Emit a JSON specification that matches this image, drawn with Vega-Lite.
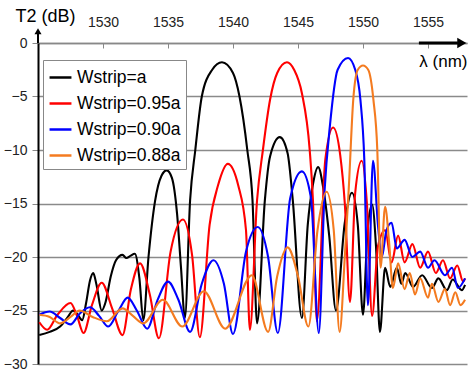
{
  "$schema": "https://vega.github.io/schema/vega-lite/v6.json",
  "width": 429,
  "height": 321,
  "autosize": {"type": "none"},
  "padding": {"left": 38, "top": 43, "right": 7, "bottom": 11},
  "config": {"font": "Liberation Sans", "view": {"stroke": null}},
  "datasets": {
    "curves": [
      {"s":"Wstrip=a","x":1525.1,"y":-27.3},{"s":"Wstrip=a","x":1525.9,"y":-27.0},{"s":"Wstrip=a","x":1526.7,"y":-26.5},{"s":"Wstrip=a","x":1527.3,"y":-25.6},{"s":"Wstrip=a","x":1527.7,"y":-25.0},{"s":"Wstrip=a","x":1528.0,"y":-25.3},{"s":"Wstrip=a","x":1528.4,"y":-25.9},{"s":"Wstrip=a","x":1528.7,"y":-24.3},{"s":"Wstrip=a","x":1529.0,"y":-22.2},{"s":"Wstrip=a","x":1529.25,"y":-21.5},{"s":"Wstrip=a","x":1529.5,"y":-22.6},{"s":"Wstrip=a","x":1529.9,"y":-25.0},{"s":"Wstrip=a","x":1530.2,"y":-24.2},{"s":"Wstrip=a","x":1530.6,"y":-21.8},{"s":"Wstrip=a","x":1531.0,"y":-20.3},{"s":"Wstrip=a","x":1531.5,"y":-19.8},{"s":"Wstrip=a","x":1531.8,"y":-20.1},{"s":"Wstrip=a","x":1532.1,"y":-19.9},{"s":"Wstrip=a","x":1532.45,"y":-19.7},{"s":"Wstrip=a","x":1532.8,"y":-22.0},{"s":"Wstrip=a","x":1533.1,"y":-25.9},{"s":"Wstrip=a","x":1533.5,"y":-20.0},{"s":"Wstrip=a","x":1534.0,"y":-14.8},{"s":"Wstrip=a","x":1534.5,"y":-12.4},{"s":"Wstrip=a","x":1534.9,"y":-11.9},{"s":"Wstrip=a","x":1535.3,"y":-12.6},{"s":"Wstrip=a","x":1535.7,"y":-16.0},{"s":"Wstrip=a","x":1536.0,"y":-21.0},{"s":"Wstrip=a","x":1536.3,"y":-25.7},{"s":"Wstrip=a","x":1536.7,"y":-14.7},{"s":"Wstrip=a","x":1537.1,"y":-10.0},{"s":"Wstrip=a","x":1537.6,"y":-5.0},{"s":"Wstrip=a","x":1538.4,"y":-2.5},{"s":"Wstrip=a","x":1539.15,"y":-1.8},{"s":"Wstrip=a","x":1540.0,"y":-2.8},{"s":"Wstrip=a","x":1540.5,"y":-5.0},{"s":"Wstrip=a","x":1541.1,"y":-10.0},{"s":"Wstrip=a","x":1541.5,"y":-14.7},{"s":"Wstrip=a","x":1541.85,"y":-26.2},{"s":"Wstrip=a","x":1542.45,"y":-14.7},{"s":"Wstrip=a","x":1542.85,"y":-10.6},{"s":"Wstrip=a","x":1543.6,"y":-8.8},{"s":"Wstrip=a","x":1544.2,"y":-10.3},{"s":"Wstrip=a","x":1544.6,"y":-14.7},{"s":"Wstrip=a","x":1545.3,"y":-25.7},{"s":"Wstrip=a","x":1545.75,"y":-17.0},{"s":"Wstrip=a","x":1546.15,"y":-13.2},{"s":"Wstrip=a","x":1546.55,"y":-11.6},{"s":"Wstrip=a","x":1546.95,"y":-13.6},{"s":"Wstrip=a","x":1547.4,"y":-18.0},{"s":"Wstrip=a","x":1547.92,"y":-25.0},{"s":"Wstrip=a","x":1548.6,"y":-16.8},{"s":"Wstrip=a","x":1549.15,"y":-14.0},{"s":"Wstrip=a","x":1549.6,"y":-17.0},{"s":"Wstrip=a","x":1550.0,"y":-25.4},{"s":"Wstrip=a","x":1550.35,"y":-17.5},{"s":"Wstrip=a","x":1550.7,"y":-15.1},{"s":"Wstrip=a","x":1551.0,"y":-19.0},{"s":"Wstrip=a","x":1551.3,"y":-27.0},{"s":"Wstrip=a","x":1551.7,"y":-21.0},{"s":"Wstrip=a","x":1552.1,"y":-22.8},{"s":"Wstrip=a","x":1552.6,"y":-21.0},{"s":"Wstrip=a","x":1552.95,"y":-22.5},{"s":"Wstrip=a","x":1553.25,"y":-21.5},{"s":"Wstrip=a","x":1553.85,"y":-22.8},{"s":"Wstrip=a","x":1554.55,"y":-21.7},{"s":"Wstrip=a","x":1555.3,"y":-22.9},{"s":"Wstrip=a","x":1555.8,"y":-22.0},{"s":"Wstrip=a","x":1556.45,"y":-23.1},{"s":"Wstrip=a","x":1556.9,"y":-22.1},{"s":"Wstrip=a","x":1557.6,"y":-23.1},{"s":"Wstrip=a","x":1557.85,"y":-22.6},

      {"s":"Wstrip=0.95a","x":1525.1,"y":-26.1},{"s":"Wstrip=0.95a","x":1525.7,"y":-26.8},{"s":"Wstrip=0.95a","x":1526.5,"y":-25.4},{"s":"Wstrip=0.95a","x":1527.5,"y":-24.3},{"s":"Wstrip=0.95a","x":1528.0,"y":-25.5},{"s":"Wstrip=0.95a","x":1528.5,"y":-27.1},{"s":"Wstrip=0.95a","x":1529.15,"y":-24.5},{"s":"Wstrip=0.95a","x":1529.9,"y":-22.4},{"s":"Wstrip=0.95a","x":1530.7,"y":-24.8},{"s":"Wstrip=0.95a","x":1531.5,"y":-27.3},{"s":"Wstrip=0.95a","x":1532.15,"y":-23.0},{"s":"Wstrip=0.95a","x":1532.85,"y":-20.6},{"s":"Wstrip=0.95a","x":1533.6,"y":-23.5},{"s":"Wstrip=0.95a","x":1534.3,"y":-27.6},{"s":"Wstrip=0.95a","x":1535.2,"y":-19.5},{"s":"Wstrip=0.95a","x":1536.15,"y":-16.5},{"s":"Wstrip=0.95a","x":1536.85,"y":-19.8},{"s":"Wstrip=0.95a","x":1537.45,"y":-27.5},{"s":"Wstrip=0.95a","x":1538.2,"y":-17.0},{"s":"Wstrip=0.95a","x":1538.85,"y":-13.3},{"s":"Wstrip=0.95a","x":1539.6,"y":-11.3},{"s":"Wstrip=0.95a","x":1540.4,"y":-13.3},{"s":"Wstrip=0.95a","x":1541.0,"y":-17.5},{"s":"Wstrip=0.95a","x":1541.3,"y":-26.8},{"s":"Wstrip=0.95a","x":1541.85,"y":-14.7},{"s":"Wstrip=0.95a","x":1542.3,"y":-10.0},{"s":"Wstrip=0.95a","x":1542.85,"y":-5.3},{"s":"Wstrip=0.95a","x":1543.4,"y":-2.8},{"s":"Wstrip=0.95a","x":1544.15,"y":-1.8},{"s":"Wstrip=0.95a","x":1544.7,"y":-2.5},{"s":"Wstrip=0.95a","x":1545.3,"y":-4.7},{"s":"Wstrip=0.95a","x":1545.9,"y":-10.0},{"s":"Wstrip=0.95a","x":1546.15,"y":-14.7},{"s":"Wstrip=0.95a","x":1546.45,"y":-26.0},{"s":"Wstrip=0.95a","x":1547.1,"y":-10.9},{"s":"Wstrip=0.95a","x":1547.7,"y":-7.9},{"s":"Wstrip=0.95a","x":1548.25,"y":-10.5},{"s":"Wstrip=0.95a","x":1548.6,"y":-15.0},{"s":"Wstrip=0.95a","x":1549.0,"y":-24.2},{"s":"Wstrip=0.95a","x":1549.4,"y":-14.0},{"s":"Wstrip=0.95a","x":1549.9,"y":-11.0},{"s":"Wstrip=0.95a","x":1550.3,"y":-15.0},{"s":"Wstrip=0.95a","x":1550.7,"y":-25.5},{"s":"Wstrip=0.95a","x":1551.15,"y":-19.0},{"s":"Wstrip=0.95a","x":1551.7,"y":-17.5},{"s":"Wstrip=0.95a","x":1552.2,"y":-20.5},{"s":"Wstrip=0.95a","x":1552.7,"y":-18.0},{"s":"Wstrip=0.95a","x":1553.2,"y":-20.5},{"s":"Wstrip=0.95a","x":1553.8,"y":-18.8},{"s":"Wstrip=0.95a","x":1554.4,"y":-21.0},{"s":"Wstrip=0.95a","x":1555.0,"y":-19.5},{"s":"Wstrip=0.95a","x":1555.6,"y":-21.5},{"s":"Wstrip=0.95a","x":1556.15,"y":-20.3},{"s":"Wstrip=0.95a","x":1556.7,"y":-22.0},{"s":"Wstrip=0.95a","x":1557.25,"y":-20.8},{"s":"Wstrip=0.95a","x":1557.7,"y":-22.3},{"s":"Wstrip=0.95a","x":1557.85,"y":-22.0},

      {"s":"Wstrip=0.90a","x":1525.1,"y":-25.4},{"s":"Wstrip=0.90a","x":1525.9,"y":-25.1},{"s":"Wstrip=0.90a","x":1526.7,"y":-25.7},{"s":"Wstrip=0.90a","x":1527.5,"y":-26.3},{"s":"Wstrip=0.90a","x":1528.2,"y":-25.3},{"s":"Wstrip=0.90a","x":1529.0,"y":-24.7},{"s":"Wstrip=0.90a","x":1529.7,"y":-25.5},{"s":"Wstrip=0.90a","x":1530.4,"y":-26.5},{"s":"Wstrip=0.90a","x":1531.2,"y":-25.0},{"s":"Wstrip=0.90a","x":1531.9,"y":-23.8},{"s":"Wstrip=0.90a","x":1532.6,"y":-25.0},{"s":"Wstrip=0.90a","x":1533.4,"y":-26.7},{"s":"Wstrip=0.90a","x":1534.2,"y":-24.0},{"s":"Wstrip=0.90a","x":1535.0,"y":-22.3},{"s":"Wstrip=0.90a","x":1535.8,"y":-24.0},{"s":"Wstrip=0.90a","x":1536.7,"y":-27.0},{"s":"Wstrip=0.90a","x":1537.6,"y":-22.5},{"s":"Wstrip=0.90a","x":1538.5,"y":-20.3},{"s":"Wstrip=0.90a","x":1539.3,"y":-22.5},{"s":"Wstrip=0.90a","x":1540.0,"y":-27.2},{"s":"Wstrip=0.90a","x":1541.0,"y":-19.5},{"s":"Wstrip=0.90a","x":1541.9,"y":-17.2},{"s":"Wstrip=0.90a","x":1542.7,"y":-20.0},{"s":"Wstrip=0.90a","x":1543.45,"y":-27.1},{"s":"Wstrip=0.90a","x":1544.4,"y":-14.5},{"s":"Wstrip=0.90a","x":1545.3,"y":-12.0},{"s":"Wstrip=0.90a","x":1546.0,"y":-14.5},{"s":"Wstrip=0.90a","x":1546.6,"y":-27.1},{"s":"Wstrip=0.90a","x":1547.05,"y":-13.7},{"s":"Wstrip=0.90a","x":1547.45,"y":-7.8},{"s":"Wstrip=0.90a","x":1548.05,"y":-2.5},{"s":"Wstrip=0.90a","x":1548.85,"y":-1.4},{"s":"Wstrip=0.90a","x":1549.4,"y":-2.5},{"s":"Wstrip=0.90a","x":1549.8,"y":-5.3},{"s":"Wstrip=0.90a","x":1550.1,"y":-10.9},{"s":"Wstrip=0.90a","x":1550.38,"y":-24.5},{"s":"Wstrip=0.90a","x":1550.77,"y":-11.0},{"s":"Wstrip=0.90a","x":1551.15,"y":-17.0},{"s":"Wstrip=0.90a","x":1551.45,"y":-20.0},{"s":"Wstrip=0.90a","x":1551.8,"y":-17.5},{"s":"Wstrip=0.90a","x":1552.2,"y":-16.8},{"s":"Wstrip=0.90a","x":1552.6,"y":-19.2},{"s":"Wstrip=0.90a","x":1553.2,"y":-18.4},{"s":"Wstrip=0.90a","x":1553.8,"y":-20.0},{"s":"Wstrip=0.90a","x":1554.4,"y":-19.5},{"s":"Wstrip=0.90a","x":1555.0,"y":-21.0},{"s":"Wstrip=0.90a","x":1555.5,"y":-20.3},{"s":"Wstrip=0.90a","x":1556.3,"y":-21.7},{"s":"Wstrip=0.90a","x":1556.85,"y":-21.0},{"s":"Wstrip=0.90a","x":1557.3,"y":-22.9},{"s":"Wstrip=0.90a","x":1557.85,"y":-22.0},

      {"s":"Wstrip=0.88a","x":1525.1,"y":-25.4},{"s":"Wstrip=0.88a","x":1525.9,"y":-25.6},{"s":"Wstrip=0.88a","x":1526.7,"y":-26.2},{"s":"Wstrip=0.88a","x":1527.5,"y":-25.6},{"s":"Wstrip=0.88a","x":1528.2,"y":-25.0},{"s":"Wstrip=0.88a","x":1529.2,"y":-25.6},{"s":"Wstrip=0.88a","x":1530.3,"y":-26.0},{"s":"Wstrip=0.88a","x":1531.5,"y":-24.8},{"s":"Wstrip=0.88a","x":1532.3,"y":-25.5},{"s":"Wstrip=0.88a","x":1533.1,"y":-26.2},{"s":"Wstrip=0.88a","x":1534.6,"y":-24.0},{"s":"Wstrip=0.88a","x":1536.1,"y":-26.5},{"s":"Wstrip=0.88a","x":1537.75,"y":-23.2},{"s":"Wstrip=0.88a","x":1539.4,"y":-26.7},{"s":"Wstrip=0.88a","x":1541.45,"y":-21.7},{"s":"Wstrip=0.88a","x":1542.7,"y":-27.0},{"s":"Wstrip=0.88a","x":1543.4,"y":-21.8},{"s":"Wstrip=0.88a","x":1544.2,"y":-19.1},{"s":"Wstrip=0.88a","x":1545.0,"y":-21.8},{"s":"Wstrip=0.88a","x":1545.8,"y":-26.5},{"s":"Wstrip=0.88a","x":1546.5,"y":-17.5},{"s":"Wstrip=0.88a","x":1547.2,"y":-13.9},{"s":"Wstrip=0.88a","x":1547.75,"y":-17.5},{"s":"Wstrip=0.88a","x":1548.2,"y":-27.0},{"s":"Wstrip=0.88a","x":1548.6,"y":-20.0},{"s":"Wstrip=0.88a","x":1548.9,"y":-13.7},{"s":"Wstrip=0.88a","x":1549.25,"y":-5.3},{"s":"Wstrip=0.88a","x":1549.6,"y":-2.5},{"s":"Wstrip=0.88a","x":1550.0,"y":-2.1},{"s":"Wstrip=0.88a","x":1550.4,"y":-2.5},{"s":"Wstrip=0.88a","x":1550.8,"y":-5.3},{"s":"Wstrip=0.88a","x":1551.1,"y":-10.0},{"s":"Wstrip=0.88a","x":1551.35,"y":-21.0},{"s":"Wstrip=0.88a","x":1551.7,"y":-15.3},{"s":"Wstrip=0.88a","x":1552.0,"y":-18.5},{"s":"Wstrip=0.88a","x":1552.3,"y":-22.9},{"s":"Wstrip=0.88a","x":1552.7,"y":-20.6},{"s":"Wstrip=0.88a","x":1553.2,"y":-23.0},{"s":"Wstrip=0.88a","x":1553.6,"y":-21.5},{"s":"Wstrip=0.88a","x":1554.0,"y":-23.5},{"s":"Wstrip=0.88a","x":1554.4,"y":-22.0},{"s":"Wstrip=0.88a","x":1555.0,"y":-23.8},{"s":"Wstrip=0.88a","x":1555.3,"y":-22.5},{"s":"Wstrip=0.88a","x":1555.8,"y":-24.2},{"s":"Wstrip=0.88a","x":1556.3,"y":-23.0},{"s":"Wstrip=0.88a","x":1556.7,"y":-24.5},{"s":"Wstrip=0.88a","x":1557.1,"y":-23.3},{"s":"Wstrip=0.88a","x":1557.5,"y":-24.5},{"s":"Wstrip=0.88a","x":1557.85,"y":-24.0}
    ]
  },
  "layer": [
    {
      "data": {"name": "curves"},
      "mark": {"type": "line", "strokeWidth": 2.1, "interpolate": "monotone"},
      "encoding": {
        "x": {
          "field": "x", "type": "quantitative",
          "scale": {"domain": [1525, 1558], "nice": false, "zero": false},
          "axis": {
            "orient": "top", "values": [1530, 1535, 1540, 1545, 1550, 1555], "format": "d",
            "title": "λ (nm)", "titleX": 429, "titleY": 23, "titleAlign": "right", "titleBaseline": "alphabetic",
            "titleFontSize": 17, "titleFontWeight": "normal", "titleColor": "#000",
            "labelFontSize": 14, "labelColor": "#222", "labelPadding": 19,
            "tickSize": -5, "tickColor": "#888", "domainColor": "#888", "domainWidth": 1.5, "grid": false
          }
        },
        "y": {
          "field": "y", "type": "quantitative",
          "scale": {"domain": [-30, 0], "nice": false},
          "axis": {
            "values": [-30, -25, -20, -15, -10, -5, 0],
            "title": "T2 (dB)", "titleAngle": 0, "titleAlign": "left", "titleBaseline": "alphabetic",
            "titleX": -23, "titleY": -22, "titleFontSize": 18, "titleFontWeight": "normal", "titleColor": "#000",
            "labelFontSize": 14, "labelColor": "#222", "labelPadding": 5,
            "tickSize": 6, "tickColor": "#888", "domainColor": "#000", "domainWidth": 2,
            "grid": true, "gridColor": "#8a8a8a", "gridWidth": 1.5
          }
        },
        "color": {
          "field": "s", "type": "nominal",
          "scale": {"domain": ["Wstrip=a", "Wstrip=0.95a", "Wstrip=0.90a", "Wstrip=0.88a"], "range": ["#000000", "#ff0000", "#0000ff", "#f47b20"]},
          "legend": {
            "title": null, "orient": "none", "legendX": 5, "legendY": 17,
            "fillColor": "#ffffff", "strokeColor": "#888", "padding": 5,
            "labelFontSize": 17.5, "labelColor": "#000", "labelOffset": 4,
            "symbolType": "stroke", "symbolStrokeWidth": 2.5, "symbolSize": 480, "rowPadding": 5
          }
        }
      }
    },
    {
      "data": {"values": [{"x": 1525, "y": 0, "y2": 1.0}]},
      "mark": {"type": "rule", "color": "#000", "strokeWidth": 2},
      "encoding": {
        "x": {"field": "x", "type": "quantitative"},
        "y": {"field": "y", "type": "quantitative"},
        "y2": {"field": "y2"}
      }
    },
    {
      "data": {"values": [{"x": 1554.3, "x2": 1557.3, "y": 0}]},
      "mark": {"type": "rule", "color": "#000", "strokeWidth": 3},
      "encoding": {
        "x": {"field": "x", "type": "quantitative"},
        "x2": {"field": "x2"},
        "y": {"field": "y", "type": "quantitative"}
      }
    },
    {
      "data": {"values": [{"x": 1525, "y": 1.1, "d": "up"}, {"x": 1557.6, "y": 0, "d": "right"}]},
      "mark": {"type": "point", "filled": true, "opacity": 1, "color": "#000"},
      "encoding": {
        "x": {"field": "x", "type": "quantitative"},
        "y": {"field": "y", "type": "quantitative"},
        "shape": {"field": "d", "type": "nominal", "scale": {"domain": ["up", "right"], "range": ["triangle-up", "triangle-right"]}, "legend": null},
        "size": {"field": "d", "type": "nominal", "scale": {"domain": ["up", "right"], "range": [50, 110]}, "legend": null}
      }
    }
  ]
}
